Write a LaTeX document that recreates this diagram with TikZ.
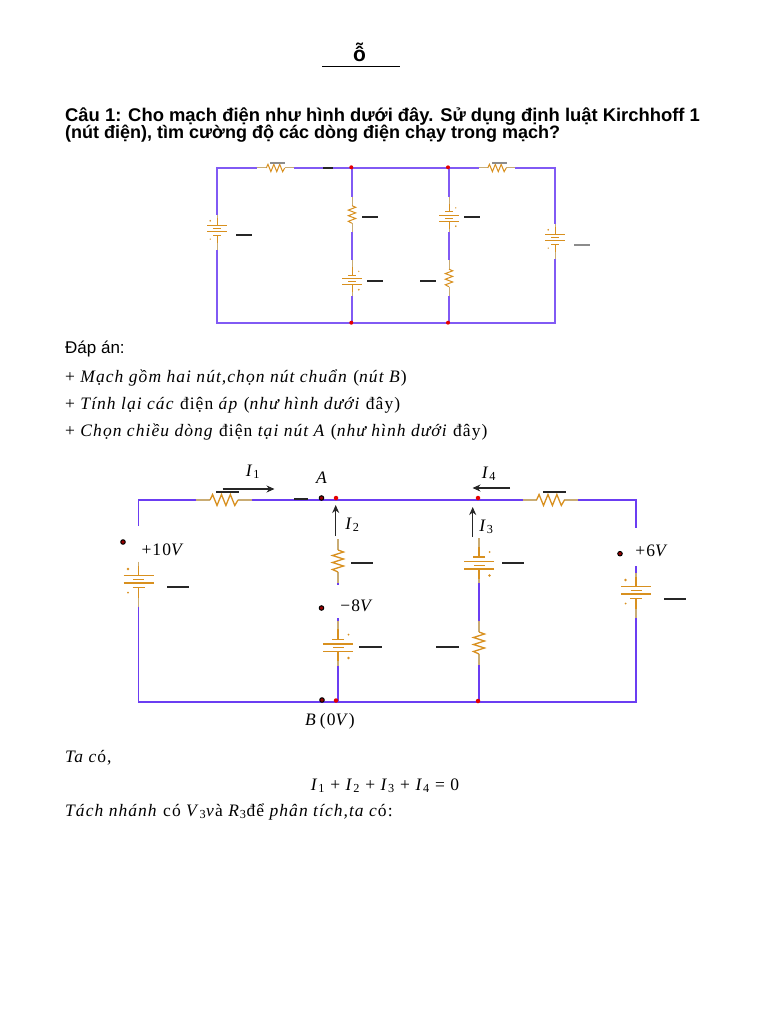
\documentclass[tikz,border=0pt]{standalone}
\usepackage{fontspec}
\usetikzlibrary{positioning}
\usetikzlibrary{arrows.meta}
\setmainfont{Liberation Sans}
\newfontfamily\camfont[LetterSpace=6]{Liberation Serif}
\definecolor{wirepurple}{HTML}{6B3DF2}
\definecolor{copper}{HTML}{D8901F}
\definecolor{leadtan}{HTML}{C9AC74}
\newcommand{\isub}[2]{\textit{#1}\textsubscript{\upshape #2}}
\tikzset{
  wire/.style={draw=wirepurple, line width=1.6pt},
  thinwire/.style={draw=wirepurple!85!white, line width=1.3pt},
  bar/.style={draw=black!85, line width=1.2pt},
  bigpart/.style={line width=1.3pt},
  smallpart/.style={line width=1pt},
  current/.style={draw=black!85, line width=1.2pt, -{Stealth[length=8pt,width=7pt]}},
  reddot/.style={circle, fill=red!90!black, inner sep=0pt, minimum size=4.5pt},
  blackdot/.style={circle, draw=black, fill=red!60!black, line width=1pt, inner sep=0pt, minimum size=4.5pt},
  bodytext/.style={anchor=base west, inner sep=0pt},
  eqtext/.style={anchor=base, inner sep=0pt, font=\camfont\fontsize{17.5}{19}\selectfont},
  pics/res/.style={code={
    \coordinate (-a) at (-22,0);
    \coordinate (-b) at (22,0);
    \draw[leadtan] (-22,0) -- (-11,0) (11,0) -- (22,0);
    \draw[copper] (-11,0) -- (-9,-5.5) -- (-5.5,5.5) -- (-2,-5.5) -- (1.5,5.5) -- (5,-5.5) -- (8.5,5.5) -- (11,0);
  }},
  pics/batt/.style={code={
    \coordinate (-a) at (0,-22.5);
    \coordinate (-b) at (0,22.5);
    \draw[copper] (0,-18) -- (0,-8.5) (-15,-8.5) -- (15,-8.5) (-5.5,-4.8) -- (5.5,-4.8);
    \draw[copper] (-15,-1.1) -- (15,-1.1) (-6,3.5) -- (6,3.5) (0,3.5) -- (0,14);
    \draw[leadtan] (0,-22.5) -- (0,-18) (0,14) -- (0,22.5);
    \fill[copper] (-10.5,-15) circle (1.3pt) (-10.5,8.5) circle (1pt);
  }}
}
\begin{document}
\begin{tikzpicture}[x=1pt,y=-1pt]
\useasboundingbox (0,0) rectangle (768,1024);
% heading
\node[anchor=base, inner sep=0pt, font=\bfseries\fontsize{21}{22}\selectfont] (title) at (359.5,62) {ỗ};
\coordinate (titleL) at (322,66.7);
\coordinate (titleR) at (399.7,66.7);
\draw[black, line width=1.5pt] (titleL) -- (titleR);
\node[bodytext, font=\bfseries\fontsize{18.4}{20}\selectfont] (cau1) at (65,122) {Câu 1: Cho mạch điện như hình dưới đây. Sử dụng định luật Kirchhoff 1};
\node[bodytext, font=\bfseries\fontsize{18}{20}\selectfont] (cau2) at (65,139) {(nút điện), tìm cường độ các dòng điện chạy trong mạch?};

% first circuit
\pic[rotate=0,xscale=.84,yscale=.67,smallpart] (Ra) at (275.5,168) {res};
\pic[rotate=0,xscale=.84,yscale=.67,smallpart] (Rd) at (497,168) {res};
\pic[rotate=-90,xscale=.8,yscale=.67,smallpart] (Rb) at (352,214.5) {res};
\pic[rotate=-90,xscale=.8,yscale=.67,smallpart] (Rc) at (449,278) {res};
\pic[xscale=.65,yscale=.78,smallpart] (Va) at (217,232.5) {batt};
\pic[rotate=180,xscale=.65,yscale=.78,smallpart] (Vb) at (352,278) {batt};
\pic[rotate=180,xscale=.65,yscale=.78,smallpart] (Vc) at (449,214.5) {batt};
\pic[xscale=.65,yscale=.78,smallpart] (Vd) at (555,241.5) {batt};
\coordinate (Ja) at (352,168);
\coordinate (Jb) at (449,168);
\coordinate (Jc) at (352,323);
\coordinate (Jd) at (449,323);
\draw[thinwire] (Va-a) |- (Ra-a);
\draw[thinwire] (Ra-b) -- (Ja) -- (Jb) -- (Rd-a);
\draw[thinwire] (Rd-b) -| (Vd-a);
\draw[thinwire] (Va-b) |- (Jc) -- (Jd);
\draw[thinwire] (Vd-b) |- (Jd);
\draw[thinwire] (Ja) -- (Rb-a);
\draw[thinwire] (Rb-b) -- (Vb-b);
\draw[thinwire] (Vb-a) -- (Jc);
\draw[thinwire] (Jb) -- (Vc-b);
\draw[thinwire] (Vc-a) -- (Rc-a);
\draw[thinwire] (Rc-b) -- (Jd);
\node[reddot, minimum size=4pt] (dotJa) at (351.3,167.3) {};
\node[reddot, minimum size=4pt] (dotJb) at (448,167.3) {};
\node[reddot, minimum size=4pt] (dotJc) at (351.3,322.7) {};
\node[reddot, minimum size=4pt] (dotJd) at (448,322.7) {};
\draw[bar, draw=black!45] (270,163) -- ++(15,0);
\draw[bar, draw=black!45] (492,163) -- ++(15,0);
\draw[bar] (323,168) -- ++(10,0);
\draw[bar] (362,217) -- ++(15.5,0);
\draw[bar] (464,217) -- ++(15.5,0);
\draw[bar] (236,235) -- ++(16,0);
\draw[bar, draw=black!45] (574,245) -- ++(16,0);
\draw[bar] (367,281) -- ++(16,0);
\draw[bar] (420,281) -- ++(15.5,0);

% answer text
\node[bodytext, font=\fontsize{17}{19}\selectfont] (dapan) at (65,353.5) {Đáp án:};
\node[bodytext, font=\camfont\fontsize{17.5}{19}\selectfont] (line1) at (65,382) {+ \textit{Mạch gồm hai nút,chọn nút chuẩn} (\textit{nút B})};
\node[bodytext, font=\camfont\fontsize{17.5}{19}\selectfont] (line2) at (65,409) {+ \textit{Tính lại các} điện \textit{áp} (\textit{như hình dưới} đây)};
\node[bodytext, font=\camfont\fontsize{17.5}{19}\selectfont] (line3) at (65,436.7) {+ \textit{Chọn chiều dòng} điện \textit{tại nút A} (\textit{như hình dưới} đây)};

% second circuit
\pic[xscale=1.27,bigpart] (R1) at (224,500) {res};
\pic[xscale=1.27,bigpart] (R4) at (550.5,500) {res};
\pic[rotate=-90,bigpart] (R2) at (338,561) {res};
\pic[rotate=-90,bigpart] (R3) at (479,643) {res};
\pic[bigpart] (V1) at (138.5,584) {batt};
\pic[rotate=180,bigpart] (V2) at (338,643) {batt};
\pic[rotate=180,bigpart] (V3) at (479,560.5) {batt};
\pic[bigpart] (V4) at (636,595) {batt};
\coordinate (J1) at (338,500);
\coordinate (J2) at (479,500);
\coordinate (J3) at (338,702);
\coordinate (J4) at (479,702);
\coordinate (V1top) at (138.5,526);
\coordinate (V4top) at (636,528);
\coordinate (V4stub) at (636,566);
\coordinate (R2stub) at (338,585);
\coordinate (V2stub) at (338,618);
\draw[wire] (V1top) |- (R1-a);
\draw[wire] (R1-b) -- (J1) -- (J2) -- (R4-a);
\draw[wire] (R4-b) -| (V4top);
\draw[wire] (V4stub) -- (V4-a);
\draw[wire] (V1-b) |- (J3) -- (J4);
\draw[wire] (V4-b) |- (J4);
\draw[wire] (R2-b) -- (R2stub);
\draw[wire] (V2stub) -- (V2-b);
\draw[wire] (V2-a) -- (J3);
\draw[wire] (V3-a) -- (R3-a);
\draw[wire] (R3-b) -- (J4);
\node[reddot] (dotJ1) at (336,498) {};
\node[reddot] (dotJ2) at (478,498) {};
\node[reddot] (dotJ3) at (336,700.5) {};
\node[reddot] (dotJ4) at (478,701) {};
\node[blackdot] (nodeA) at (321.5,498) {};
\node[blackdot] (nodeB) at (322,700) {};
\node[blackdot] (node10) at (123,542) {};
\node[blackdot] (node8) at (321.5,608) {};
\node[blackdot] (node6) at (620,553.7) {};
\draw[bar] (216,492) -- ++(23,0);
\draw[bar] (543,492) -- ++(23,0);
\draw[bar] (294,499) -- ++(14,0);
\draw[bar] (351,563) -- ++(22,0);
\draw[bar] (167,587) -- ++(22,0);
\draw[bar] (359,647) -- ++(23,0);
\draw[bar] (502,563) -- ++(22,0);
\draw[bar] (436,647) -- ++(23,0);
\draw[bar] (664,599) -- ++(22,0);
% currents
\coordinate (I1from) at (222.7,489);
\coordinate (I1to) at (274.5,489);
\coordinate (I2from) at (335.7,536);
\coordinate (I2to) at (335.7,505);
\coordinate (I3from) at (472.7,537);
\coordinate (I3to) at (472.7,507);
\coordinate (I4from) at (510,488);
\coordinate (I4to) at (472.5,488);
\draw[current] (I1from) -- (I1to);
\draw[current] (I2from) -- (I2to);
\draw[current] (I3from) -- (I3to);
\draw[current] (I4from) -- (I4to);
\node[eqtext] (I1) at (253,476) {\isub{I}{1}};
\node[eqtext] (I2) at (352.5,529) {\isub{I}{2}};
\node[eqtext] (I3) at (486.5,531) {\isub{I}{3}};
\node[eqtext] (I4) at (489,478) {\isub{I}{4}};
\node[eqtext] (A) at (322,483) {\textit{A}};
\node[eqtext] (B) at (330,725) {\textit{B}\,(0\textit{V})};
\node[eqtext] (plus10) at (163,555) {+10\textit{V}};
\node[eqtext] (minus8) at (357,611) {−8\textit{V}};
\node[eqtext] (plus6) at (652,556) {+6\textit{V}};

% end text
\node[bodytext, font=\camfont\fontsize{17.5}{19}\selectfont] (taco) at (65,762) {\textit{Ta c}ó,};
\node[eqtext] (eq) at (385,790) {\isub{I}{1} + \isub{I}{2} + \isub{I}{3} + \isub{I}{4} = 0};
\node[bodytext, font=\camfont\fontsize{17.5}{19}\selectfont] (tach) at (65,816) {\textit{Tách nhánh} có \isub{V}{3}\textit{v}à \isub{R}{3}để \textit{phân tích,ta c}ó:};
\end{tikzpicture}
\end{document}
